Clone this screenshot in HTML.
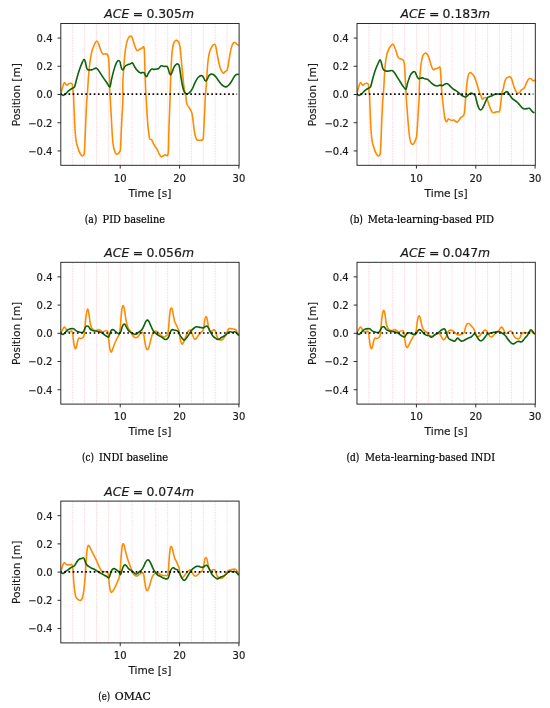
<!DOCTYPE html>
<html><head><meta charset="utf-8"><title>Figure</title>
<style>
html,body{margin:0;padding:0;background:#fff;}
svg{display:block}
text{font-family:"DejaVu Sans","Liberation Sans",sans-serif;fill:#1a1a1a;stroke:#1a1a1a;stroke-width:0.18px}
.tk{font-size:10.00px}
.lb{font-size:10.60px}
.tt{font-size:12.40px;font-style:italic}
.tn{font-style:normal}
.cp{font-family:"DejaVu Serif","Liberation Serif",serif;font-size:10.40px;fill:#000;stroke:#000;stroke-width:0.2px}
.ax{fill:none;stroke:#222;stroke-width:0.95}
.tick{stroke:#222;stroke-width:0.95}
.gl{stroke:#ffb6c4;stroke-width:0.5;stroke-dasharray:1.9 0.8}
.or{fill:none;stroke:#ff8c00;stroke-width:1.6;stroke-linejoin:round;stroke-linecap:butt}
.gr{fill:none;stroke:#0a640a;stroke-width:1.6;stroke-linejoin:round;stroke-linecap:butt}
.zl{stroke:#000;stroke-width:1.7;stroke-dasharray:1.65 2.55}
</style></head><body>
<svg width="550" height="708" viewBox="0 0 550 708">
<rect width="550" height="708" fill="#fff"/>
<defs><filter id="soft" x="0" y="0" width="550" height="708" filterUnits="userSpaceOnUse"><feGaussianBlur stdDeviation="0.32"/></filter></defs>
<g filter="url(#soft)">

<g>
<clipPath id="c0"><rect x="60.80" y="23.50" width="178.30" height="141.80"/></clipPath>
<path class="gl" d="M72.77 23.50V165.30M84.63 23.50V165.30M96.50 23.50V165.30M108.37 23.50V165.30M120.23 23.50V165.30M132.10 23.50V165.30M143.97 23.50V165.30M155.83 23.50V165.30M167.70 23.50V165.30M179.57 23.50V165.30M191.43 23.50V165.30M203.30 23.50V165.30M215.17 23.50V165.30M227.03 23.50V165.30"/>
<g clip-path="url(#c0)">
<path class="or" d="M60.80 93.82C61.08 92.76 61.86 89.32 62.45 87.45C63.05 85.59 63.66 83.00 64.36 82.62C65.06 82.24 65.91 84.99 66.65 85.16C67.40 85.33 68.14 83.95 68.82 83.64C69.50 83.32 70.15 83.15 70.73 83.25C71.30 83.36 71.89 83.25 72.25 84.27C72.62 85.29 72.72 87.73 72.89 89.36C73.06 91.00 73.15 92.69 73.27 94.07C73.40 95.45 73.48 94.07 73.65 97.64C73.82 101.20 74.04 109.73 74.29 115.45C74.55 121.18 74.88 127.76 75.18 132.00C75.48 136.24 75.71 138.58 76.07 140.91C76.43 143.24 76.86 144.30 77.35 146.00C77.83 147.70 78.45 149.71 79.00 151.09C79.55 152.47 80.12 153.47 80.65 154.27C81.18 155.08 81.65 155.86 82.18 155.93C82.71 155.99 83.45 155.46 83.84 154.65C84.22 153.85 84.28 153.38 84.47 151.09C84.66 148.80 84.77 145.79 84.98 140.91C85.19 136.03 85.47 128.18 85.75 121.82C86.02 115.45 86.36 107.39 86.64 102.73C86.91 98.06 87.08 98.27 87.40 93.82C87.72 89.36 88.14 81.09 88.55 76.00C88.95 70.91 89.29 67.30 89.82 63.27C90.35 59.24 90.98 54.89 91.73 51.82C92.47 48.74 93.47 46.62 94.27 44.82C95.08 43.02 95.82 41.11 96.56 41.00C97.31 40.89 98.05 42.70 98.73 44.18C99.41 45.67 100.00 48.32 100.64 49.91C101.27 51.50 101.85 53.05 102.55 53.73C103.25 54.41 104.09 53.92 104.84 53.98C105.58 54.05 106.38 53.41 107.00 54.11C107.62 54.81 108.15 55.38 108.53 58.18C108.91 60.98 109.08 64.93 109.29 70.91C109.50 76.89 109.65 89.62 109.80 94.07C109.95 98.53 109.95 94.07 110.18 97.64C110.42 101.20 110.88 109.73 111.20 115.45C111.52 121.18 111.79 127.33 112.09 132.00C112.39 136.67 112.62 140.48 112.98 143.45C113.34 146.42 113.83 148.16 114.25 149.82C114.68 151.47 115.10 152.64 115.53 153.38C115.95 154.12 116.31 154.27 116.80 154.27C117.29 154.27 117.90 153.91 118.45 153.38C119.01 152.85 119.75 152.32 120.11 151.09C120.47 149.86 120.43 149.18 120.62 146.00C120.81 142.82 121.02 137.09 121.25 132.00C121.49 126.91 121.74 120.76 122.02 115.45C122.29 110.15 122.77 105.48 122.91 100.18C123.05 94.88 122.70 88.94 122.84 83.64C122.97 78.33 123.37 73.45 123.73 68.36C124.09 63.27 124.51 57.33 125.00 53.09C125.49 48.85 126.08 45.45 126.65 42.91C127.23 40.36 127.80 38.94 128.44 37.82C129.07 36.69 129.84 36.16 130.47 36.16C131.11 36.16 131.68 36.69 132.25 37.82C132.83 38.94 133.36 41.21 133.91 42.91C134.46 44.61 135.03 46.73 135.56 48.00C136.09 49.27 136.41 50.33 137.09 50.55C137.77 50.76 138.79 49.70 139.64 49.27C140.48 48.85 141.48 48.38 142.18 48.00C142.88 47.62 143.45 46.13 143.84 46.98C144.22 47.83 144.28 49.10 144.47 53.09C144.66 57.08 144.79 64.97 144.98 70.91C145.17 76.85 145.41 83.85 145.62 88.73C145.83 93.61 146.02 96.15 146.25 100.18C146.49 104.21 146.74 108.67 147.02 112.91C147.29 117.15 147.59 122.03 147.91 125.64C148.23 129.24 148.61 132.32 148.93 134.55C149.25 136.77 149.35 138.11 149.82 139.00C150.28 139.89 151.13 139.15 151.73 139.89C152.32 140.63 152.81 142.33 153.38 143.45C153.95 144.58 154.53 145.62 155.16 146.64C155.80 147.65 156.56 148.40 157.20 149.56C157.84 150.73 158.30 152.43 158.98 153.64C159.66 154.85 160.57 156.44 161.27 156.82C161.97 157.20 162.50 156.25 163.18 155.93C163.86 155.61 164.65 154.97 165.35 154.91C166.05 154.85 166.89 155.97 167.38 155.55C167.87 155.12 168.06 154.80 168.27 152.36C168.48 149.92 168.51 146.00 168.65 140.91C168.80 135.82 168.95 128.18 169.16 121.82C169.38 115.45 169.72 109.09 169.93 102.73C170.14 96.36 170.22 89.79 170.44 83.64C170.65 77.48 170.92 71.12 171.20 65.82C171.48 60.52 171.73 55.42 172.09 51.82C172.45 48.21 172.88 45.98 173.36 44.18C173.85 42.38 174.45 41.64 175.02 41.00C175.59 40.36 176.23 40.26 176.80 40.36C177.37 40.47 178.04 41.11 178.45 41.64C178.87 42.17 178.97 42.27 179.27 43.55C179.58 44.82 179.97 46.83 180.29 49.27C180.61 51.71 180.86 54.79 181.18 58.18C181.50 61.58 181.84 65.82 182.20 69.64C182.56 73.45 182.98 77.70 183.35 81.09C183.71 84.48 183.94 87.45 184.36 90.00C184.79 92.55 185.51 94.14 185.89 96.36C186.27 98.59 186.17 101.56 186.65 103.36C187.14 105.17 188.14 106.02 188.82 107.18C189.50 108.35 190.20 109.30 190.73 110.36C191.26 111.42 191.62 111.85 192.00 113.55C192.38 115.24 192.64 117.68 193.02 120.55C193.40 123.41 193.87 127.97 194.29 130.73C194.72 133.48 195.10 135.56 195.56 137.09C196.03 138.62 196.41 139.36 197.09 139.89C197.77 140.42 198.68 140.32 199.64 140.27C200.59 140.23 202.18 140.38 202.82 139.64C203.45 138.89 203.24 138.58 203.45 135.82C203.67 133.06 203.88 127.55 204.09 123.09C204.30 118.64 204.52 113.55 204.73 109.09C204.94 104.64 205.11 100.18 205.36 96.36C205.62 92.55 205.98 90.00 206.25 86.18C206.53 82.36 206.74 77.48 207.02 73.45C207.29 69.42 207.55 65.29 207.91 62.00C208.27 58.71 208.69 55.95 209.18 53.73C209.67 51.50 210.26 50.02 210.84 48.64C211.41 47.26 212.05 46.20 212.62 45.45C213.19 44.71 213.78 44.18 214.27 44.18C214.76 44.18 215.16 44.39 215.55 45.45C215.93 46.52 216.20 48.64 216.56 50.55C216.92 52.45 217.31 54.79 217.71 56.91C218.11 59.03 218.49 61.26 218.98 63.27C219.47 65.29 220.08 67.52 220.64 69.00C221.19 70.48 221.80 71.48 222.29 72.18C222.78 72.88 223.10 73.31 223.56 73.20C224.03 73.09 224.52 72.03 225.09 71.55C225.66 71.06 226.53 71.02 227.00 70.27C227.47 69.53 227.57 68.68 227.89 67.09C228.21 65.50 228.53 63.06 228.91 60.73C229.29 58.39 229.76 55.32 230.18 53.09C230.61 50.86 230.99 48.95 231.45 47.36C231.92 45.77 232.45 44.39 232.98 43.55C233.51 42.70 234.08 42.27 234.64 42.27C235.19 42.27 235.76 43.12 236.29 43.55C236.82 43.97 237.39 44.54 237.82 44.82C238.24 45.09 238.67 45.14 238.84 45.20"/>
<path class="gr" d="M60.80 94.07C61.18 94.28 62.39 95.28 63.09 95.35C63.79 95.41 64.05 95.24 65.00 94.45C65.95 93.67 67.65 91.63 68.82 90.64C69.98 89.64 71.05 89.11 72.00 88.47C72.95 87.84 73.80 88.26 74.55 86.82C75.29 85.38 75.71 82.47 76.45 79.82C77.20 77.17 78.05 73.77 79.00 70.91C79.95 68.05 81.33 64.59 82.18 62.64C83.03 60.68 83.56 59.31 84.09 59.20C84.62 59.09 84.88 60.37 85.36 62.00C85.85 63.63 86.38 67.68 87.02 69.00C87.65 70.32 88.29 69.78 89.18 69.89C90.07 70.00 91.24 69.93 92.36 69.64C93.49 69.34 94.97 68.11 95.93 68.11C96.88 68.11 96.99 68.22 98.09 69.64C99.19 71.06 101.06 74.41 102.55 76.64C104.03 78.86 105.77 81.30 107.00 83.00C108.23 84.70 109.18 87.35 109.93 86.82C110.67 86.29 110.78 82.68 111.45 79.82C112.13 76.95 113.15 72.50 114.00 69.64C114.85 66.77 115.80 64.16 116.55 62.64C117.29 61.11 117.86 60.58 118.45 60.47C119.05 60.37 119.76 61.32 120.11 62.00C120.46 62.68 120.26 63.38 120.55 64.55C120.83 65.71 121.39 68.15 121.82 69.00C122.24 69.85 122.56 70.06 123.09 69.64C123.62 69.21 124.26 67.26 125.00 66.45C125.74 65.65 126.70 65.22 127.55 64.80C128.39 64.38 129.31 64.23 130.09 63.91C130.88 63.59 131.68 62.78 132.25 62.89C132.83 63.00 133.04 63.74 133.53 64.55C134.02 65.35 134.48 66.67 135.18 67.73C135.88 68.79 136.88 70.06 137.73 70.91C138.58 71.76 139.42 72.56 140.27 72.82C141.12 73.07 142.18 72.44 142.82 72.44C143.45 72.44 143.67 72.33 144.09 72.82C144.52 73.31 144.94 74.73 145.36 75.36C145.79 76.00 146.21 76.85 146.64 76.64C147.06 76.42 147.38 75.05 147.91 74.09C148.44 73.14 149.18 71.76 149.82 70.91C150.45 70.06 150.98 69.25 151.73 69.00C152.47 68.75 153.42 69.38 154.27 69.38C155.12 69.38 156.08 69.17 156.82 69.00C157.56 68.83 157.98 68.89 158.73 68.36C159.47 67.83 160.42 66.14 161.27 65.82C162.12 65.50 162.86 66.35 163.82 66.45C164.77 66.56 166.26 66.03 167.00 66.45C167.74 66.88 167.85 67.83 168.27 69.00C168.70 70.17 169.12 72.50 169.55 73.45C169.97 74.41 170.39 74.94 170.82 74.73C171.24 74.52 171.56 73.45 172.09 72.18C172.62 70.91 173.36 68.36 174.00 67.09C174.64 65.82 175.27 65.08 175.91 64.55C176.55 64.02 177.30 63.80 177.82 63.91C178.34 64.02 178.67 64.23 179.02 65.18C179.37 66.14 179.55 67.41 179.91 69.64C180.27 71.86 180.69 75.58 181.18 78.55C181.67 81.52 182.26 85.16 182.84 87.45C183.41 89.75 183.98 91.23 184.62 92.29C185.25 93.35 185.95 93.67 186.65 93.82C187.35 93.97 188.14 93.61 188.82 93.18C189.50 92.76 190.09 92.12 190.73 91.27C191.36 90.42 192.00 89.36 192.64 88.09C193.27 86.82 193.91 85.02 194.55 83.64C195.18 82.26 195.82 80.88 196.45 79.82C197.09 78.76 197.66 77.97 198.36 77.27C199.06 76.57 199.98 75.83 200.65 75.62C201.33 75.41 201.93 75.62 202.44 76.00C202.95 76.38 203.28 77.17 203.71 77.91C204.13 78.65 204.56 79.97 204.98 80.45C205.41 80.94 205.83 81.15 206.25 80.84C206.68 80.52 207.04 79.46 207.53 78.55C208.02 77.63 208.55 76.11 209.18 75.36C209.82 74.62 210.60 74.20 211.35 74.09C212.09 73.98 212.83 74.20 213.64 74.73C214.44 75.26 215.33 76.21 216.18 77.27C217.03 78.33 217.77 79.82 218.73 81.09C219.68 82.36 220.89 83.95 221.91 84.91C222.93 85.86 223.99 86.56 224.84 86.82C225.68 87.07 226.22 86.86 227.00 86.44C227.78 86.01 228.70 85.27 229.55 84.27C230.39 83.28 231.24 81.83 232.09 80.45C232.94 79.08 233.89 77.00 234.64 76.00C235.38 75.00 235.85 74.75 236.55 74.47C237.25 74.20 238.45 74.37 238.84 74.35"/>
<path class="zl" d="M60.10 94.20H237.12"/>
</g>
<rect class="ax" x="60.80" y="23.50" width="178.30" height="141.80"/>
<path class="tick" d="M120.23 165.30v3.3M179.57 165.30v3.3M238.90 165.30v3.3M60.80 150.94h-3.3M60.80 122.72h-3.3M60.80 94.50h-3.3M60.80 66.28h-3.3M60.80 38.06h-3.3"/>
<text class="tk" text-anchor="middle" x="120.23" y="181.50">10</text>
<text class="tk" text-anchor="middle" x="179.57" y="181.50">20</text>
<text class="tk" text-anchor="middle" x="238.90" y="181.50">30</text>
<text class="tk" text-anchor="end" x="52.50" y="154.84">−0.4</text>
<text class="tk" text-anchor="end" x="52.50" y="126.62">−0.2</text>
<text class="tk" text-anchor="end" x="52.50" y="98.40">0.0</text>
<text class="tk" text-anchor="end" x="52.50" y="70.18">0.2</text>
<text class="tk" text-anchor="end" x="52.50" y="41.96">0.4</text>
<text class="lb" text-anchor="middle" x="149.95" y="196.60">Time [s]</text>
<text class="lb" text-anchor="middle" transform="translate(19.80 94.70) rotate(-90)">Position [m]</text>
<text class="tt" y="18.30"><tspan x="104.30">ACE</tspan><tspan class="tn" x="132.70">=</tspan><tspan class="tn" x="146.40">0.305</tspan>m</text>
<text class="cp" x="84.70" y="222.50" textLength="12.7" lengthAdjust="spacingAndGlyphs">(a)</text>
<text class="cp" x="102.60" y="222.50" textLength="62.4" lengthAdjust="spacingAndGlyphs">PID baseline</text>
</g>
<g>
<clipPath id="c1"><rect x="357.00" y="23.50" width="178.30" height="141.80"/></clipPath>
<path class="gl" d="M368.97 23.50V165.30M380.83 23.50V165.30M392.70 23.50V165.30M404.57 23.50V165.30M416.43 23.50V165.30M428.30 23.50V165.30M440.17 23.50V165.30M452.03 23.50V165.30M463.90 23.50V165.30M475.77 23.50V165.30M487.63 23.50V165.30M499.50 23.50V165.30M511.37 23.50V165.30M523.23 23.50V165.30"/>
<g clip-path="url(#c1)">
<path class="or" d="M356.80 93.82C357.08 92.76 357.86 89.32 358.45 87.45C359.05 85.59 359.66 83.00 360.36 82.62C361.06 82.24 361.91 84.99 362.65 85.16C363.40 85.33 364.14 83.95 364.82 83.64C365.50 83.32 366.15 83.15 366.73 83.25C367.30 83.36 367.89 83.25 368.25 84.27C368.62 85.29 368.72 87.73 368.89 89.36C369.06 91.00 369.15 92.69 369.27 94.07C369.40 95.45 369.48 94.07 369.65 97.64C369.82 101.20 370.04 109.73 370.29 115.45C370.55 121.18 370.88 127.76 371.18 132.00C371.48 136.24 371.71 138.58 372.07 140.91C372.43 143.24 372.86 144.30 373.35 146.00C373.83 147.70 374.45 149.71 375.00 151.09C375.55 152.47 376.12 153.47 376.65 154.27C377.18 155.08 377.65 155.86 378.18 155.93C378.71 155.99 379.45 155.46 379.84 154.65C380.22 153.85 380.28 153.38 380.47 151.09C380.66 148.80 380.77 145.79 380.98 140.91C381.19 136.03 381.47 128.18 381.75 121.82C382.02 115.45 382.36 107.39 382.64 102.73C382.91 98.06 383.17 97.00 383.40 93.82C383.63 90.64 383.85 87.03 384.04 83.64C384.23 80.24 384.29 77.06 384.55 73.45C384.80 69.85 385.14 65.29 385.56 62.00C385.99 58.71 386.45 56.06 387.09 53.73C387.73 51.39 388.47 49.59 389.38 48.00C390.29 46.41 391.72 44.39 392.56 44.18C393.41 43.97 393.86 45.45 394.47 46.73C395.09 48.00 395.68 50.12 396.25 51.82C396.83 53.52 397.36 55.78 397.91 56.91C398.46 58.03 398.86 58.14 399.56 58.56C400.26 58.99 401.43 59.09 402.11 59.45C402.79 59.82 403.23 59.67 403.64 60.73C404.04 61.79 404.27 63.27 404.53 65.82C404.78 68.36 404.95 72.18 405.16 76.00C405.38 79.82 405.59 84.70 405.80 88.73C406.01 92.76 406.20 96.58 406.44 100.18C406.67 103.79 406.92 106.76 407.20 110.36C407.48 113.97 407.79 118.21 408.09 121.82C408.39 125.42 408.66 129.03 408.98 132.00C409.30 134.97 409.62 137.73 410.00 139.64C410.38 141.55 410.85 142.65 411.27 143.45C411.70 144.26 412.12 144.47 412.55 144.47C412.97 144.47 413.39 144.05 413.82 143.45C414.24 142.86 414.67 141.86 415.09 140.91C415.52 139.95 416.05 139.21 416.36 137.73C416.68 136.24 416.79 134.65 417.00 132.00C417.21 129.35 417.40 125.64 417.64 121.82C417.87 118.00 418.15 113.12 418.40 109.09C418.65 105.06 419.01 101.45 419.16 97.64C419.32 93.82 419.19 90.21 419.35 86.18C419.50 82.15 419.77 77.48 420.11 73.45C420.45 69.42 420.92 64.97 421.38 62.00C421.85 59.03 422.34 57.08 422.91 55.64C423.48 54.19 424.18 53.66 424.82 53.35C425.45 53.03 426.09 53.13 426.73 53.73C427.36 54.32 428.00 55.32 428.64 56.91C429.27 58.50 429.97 61.47 430.55 63.27C431.12 65.08 431.61 66.67 432.07 67.73C432.54 68.79 432.75 69.47 433.35 69.64C433.94 69.81 434.83 69.00 435.64 68.75C436.44 68.49 437.48 68.38 438.18 68.11C438.88 67.83 439.45 66.62 439.84 67.09C440.22 67.56 440.26 68.58 440.47 70.91C440.68 73.24 440.90 77.70 441.11 81.09C441.32 84.48 441.55 88.73 441.75 91.27C441.94 93.82 442.04 94.24 442.25 96.36C442.47 98.48 442.74 101.45 443.02 104.00C443.29 106.55 443.61 109.30 443.91 111.64C444.21 113.97 444.48 116.41 444.80 118.00C445.12 119.59 445.48 120.59 445.82 121.18C446.16 121.78 446.41 121.92 446.84 121.56C447.26 121.20 447.79 119.29 448.36 119.02C448.94 118.74 449.64 119.65 450.27 119.91C450.91 120.16 451.61 120.55 452.18 120.55C452.75 120.55 453.18 119.80 453.71 119.91C454.24 120.02 454.77 120.82 455.36 121.18C455.96 121.54 456.64 122.28 457.27 122.07C457.91 121.86 458.55 120.69 459.18 119.91C459.82 119.12 460.45 118.00 461.09 117.36C461.73 116.73 462.47 116.73 463.00 116.09C463.53 115.45 463.95 114.92 464.27 113.55C464.59 112.17 464.70 110.26 464.91 107.82C465.12 105.38 465.33 101.67 465.55 98.91C465.76 96.15 465.91 94.24 466.18 91.27C466.46 88.30 466.82 83.85 467.20 81.09C467.58 78.33 467.96 76.17 468.47 74.73C468.98 73.28 469.62 72.54 470.25 72.44C470.89 72.33 471.67 73.50 472.29 74.09C472.92 74.68 473.46 75.05 474.00 76.00C474.54 76.95 475.00 78.33 475.53 79.82C476.06 81.30 476.59 83.00 477.18 84.91C477.78 86.82 478.45 89.44 479.09 91.27C479.73 93.11 480.47 94.61 481.00 95.91C481.53 97.21 481.78 98.73 482.27 99.09C482.76 99.45 483.35 98.33 483.93 98.07C484.50 97.82 485.20 97.50 485.71 97.56C486.22 97.63 486.60 97.78 486.98 98.45C487.36 99.13 487.62 100.47 488.00 101.64C488.38 102.80 488.81 104.14 489.27 105.45C489.74 106.77 490.27 108.36 490.80 109.53C491.33 110.69 491.86 111.97 492.45 112.45C493.05 112.94 493.62 112.56 494.36 112.45C495.11 112.35 496.10 111.97 496.91 111.82C497.72 111.67 498.67 112.09 499.20 111.56C499.73 111.03 499.79 110.29 500.09 108.64C500.39 106.98 500.66 104.29 500.98 101.64C501.30 98.98 501.62 94.88 502.00 92.73C502.38 90.58 502.85 90.45 503.27 88.73C503.70 87.00 504.08 84.06 504.55 82.36C505.01 80.67 505.48 79.39 506.07 78.55C506.67 77.70 507.47 77.59 508.11 77.27C508.75 76.95 509.32 76.42 509.89 76.64C510.46 76.85 511.06 77.48 511.55 78.55C512.03 79.61 512.33 81.41 512.82 83.00C513.31 84.59 513.90 86.61 514.47 88.09C515.05 89.58 515.68 91.00 516.25 91.91C516.83 92.82 517.36 93.46 517.91 93.56C518.46 93.67 518.99 93.14 519.56 92.55C520.14 91.95 520.71 90.64 521.35 90.00C521.98 89.36 522.79 89.26 523.38 88.73C523.98 88.20 524.40 87.77 524.91 86.82C525.42 85.86 525.91 84.17 526.44 83.00C526.97 81.83 527.54 80.56 528.09 79.82C528.64 79.08 529.17 78.65 529.75 78.55C530.32 78.44 530.95 78.80 531.53 79.18C532.10 79.56 532.63 80.73 533.18 80.84C533.73 80.94 534.56 79.99 534.84 79.82"/>
<path class="gr" d="M356.80 94.07C357.18 94.28 358.39 95.28 359.09 95.35C359.79 95.41 360.05 95.24 361.00 94.45C361.95 93.67 363.65 91.63 364.82 90.64C365.98 89.64 367.05 89.11 368.00 88.47C368.95 87.84 369.80 88.26 370.55 86.82C371.29 85.38 371.71 82.47 372.45 79.82C373.20 77.17 374.05 73.67 375.00 70.91C375.95 68.15 377.33 65.14 378.18 63.27C379.03 61.41 379.56 59.82 380.09 59.71C380.62 59.60 380.88 61.09 381.36 62.64C381.85 64.18 382.38 67.66 383.02 69.00C383.65 70.34 384.29 70.29 385.18 70.65C386.07 71.02 387.24 71.18 388.36 71.16C389.49 71.14 390.97 70.36 391.93 70.53C392.88 70.70 392.99 70.74 394.09 72.18C395.19 73.62 397.06 76.85 398.55 79.18C400.03 81.52 401.77 84.48 403.00 86.18C404.23 87.88 405.18 89.79 405.93 89.36C406.67 88.94 406.78 85.86 407.45 83.64C408.13 81.41 409.15 77.87 410.00 76.00C410.85 74.13 411.80 73.18 412.55 72.44C413.29 71.69 413.96 71.48 414.45 71.55C414.95 71.61 415.14 72.08 415.53 72.82C415.92 73.56 416.31 75.05 416.80 76.00C417.29 76.95 417.86 78.16 418.45 78.55C419.05 78.93 419.66 78.40 420.36 78.29C421.06 78.18 421.91 77.82 422.65 77.91C423.40 77.99 424.03 78.59 424.82 78.80C425.60 79.01 426.62 78.84 427.36 79.18C428.11 79.52 428.53 80.14 429.27 80.84C430.02 81.54 430.86 82.60 431.82 83.38C432.77 84.17 434.05 85.12 435.00 85.55C435.95 85.97 436.70 85.99 437.55 85.93C438.39 85.86 439.24 85.23 440.09 85.16C440.94 85.10 441.79 85.76 442.64 85.55C443.48 85.33 444.40 84.21 445.18 83.89C445.97 83.57 446.60 83.36 447.35 83.64C448.09 83.91 448.83 84.80 449.64 85.55C450.44 86.29 451.33 87.35 452.18 88.09C453.03 88.83 453.88 89.43 454.73 90.00C455.58 90.57 456.42 90.89 457.27 91.53C458.12 92.16 458.97 93.12 459.82 93.82C460.67 94.52 461.41 95.20 462.36 95.73C463.32 96.26 464.59 97.11 465.55 97.00C466.50 96.89 467.24 95.73 468.09 95.09C468.94 94.45 469.79 93.39 470.64 93.18C471.48 92.97 472.41 93.36 473.18 93.82C473.95 94.27 474.75 94.92 475.27 95.91C475.79 96.89 475.91 98.24 476.29 99.73C476.67 101.21 477.10 103.33 477.56 104.82C478.03 106.30 478.58 107.79 479.09 108.64C479.60 109.48 480.09 109.91 480.62 109.91C481.15 109.91 481.68 109.48 482.27 108.64C482.87 107.79 483.55 106.20 484.18 104.82C484.82 103.44 485.45 101.64 486.09 100.36C486.73 99.09 487.36 97.82 488.00 97.18C488.64 96.55 489.17 96.82 489.91 96.55C490.65 96.27 491.61 95.91 492.45 95.53C493.30 95.15 494.05 94.51 495.00 94.25C495.95 94.00 497.12 94.00 498.18 94.00C499.24 94.00 500.41 94.36 501.36 94.25C502.32 94.15 503.17 93.72 503.91 93.36C504.65 93.00 505.25 92.37 505.82 92.09C506.39 91.82 506.88 91.50 507.35 91.71C507.81 91.92 508.13 92.66 508.62 93.36C509.11 94.06 509.68 95.06 510.27 95.91C510.87 96.76 511.44 97.71 512.18 98.45C512.92 99.20 513.88 99.73 514.73 100.36C515.58 101.00 516.47 101.53 517.27 102.27C518.08 103.02 518.82 103.97 519.56 104.82C520.31 105.67 520.94 106.66 521.73 107.36C522.51 108.06 523.42 108.81 524.27 109.02C525.12 109.23 525.97 108.76 526.82 108.64C527.67 108.51 528.66 108.04 529.36 108.25C530.06 108.47 530.49 109.32 531.02 109.91C531.55 110.50 531.97 111.33 532.55 111.82C533.12 112.31 534.14 112.67 534.45 112.84"/>
<path class="zl" d="M356.30 94.20H533.32"/>
</g>
<rect class="ax" x="357.00" y="23.50" width="178.30" height="141.80"/>
<path class="tick" d="M416.43 165.30v3.3M475.77 165.30v3.3M535.10 165.30v3.3M357.00 150.94h-3.3M357.00 122.72h-3.3M357.00 94.50h-3.3M357.00 66.28h-3.3M357.00 38.06h-3.3"/>
<text class="tk" text-anchor="middle" x="416.43" y="181.50">10</text>
<text class="tk" text-anchor="middle" x="475.77" y="181.50">20</text>
<text class="tk" text-anchor="middle" x="535.10" y="181.50">30</text>
<text class="tk" text-anchor="end" x="348.70" y="154.84">−0.4</text>
<text class="tk" text-anchor="end" x="348.70" y="126.62">−0.2</text>
<text class="tk" text-anchor="end" x="348.70" y="98.40">0.0</text>
<text class="tk" text-anchor="end" x="348.70" y="70.18">0.2</text>
<text class="tk" text-anchor="end" x="348.70" y="41.96">0.4</text>
<text class="lb" text-anchor="middle" x="446.15" y="196.60">Time [s]</text>
<text class="lb" text-anchor="middle" transform="translate(316.00 94.70) rotate(-90)">Position [m]</text>
<text class="tt" y="18.30"><tspan x="400.50">ACE</tspan><tspan class="tn" x="428.90">=</tspan><tspan class="tn" x="442.60">0.183</tspan>m</text>
<text class="cp" x="349.80" y="222.50" textLength="13.1" lengthAdjust="spacingAndGlyphs">(b)</text>
<text class="cp" x="367.70" y="222.50" textLength="126.3" lengthAdjust="spacingAndGlyphs">Meta-learning-based PID</text>
</g>
<g>
<clipPath id="c2"><rect x="60.80" y="262.30" width="178.30" height="141.80"/></clipPath>
<path class="gl" d="M72.77 262.30V404.10M84.63 262.30V404.10M96.50 262.30V404.10M108.37 262.30V404.10M120.23 262.30V404.10M132.10 262.30V404.10M143.97 262.30V404.10M155.83 262.30V404.10M167.70 262.30V404.10M179.57 262.30V404.10M191.43 262.30V404.10M203.30 262.30V404.10M215.17 262.30V404.10M227.03 262.30V404.10"/>
<g clip-path="url(#c2)">
<path class="or" d="M60.80 333.09C61.08 332.56 61.86 330.91 62.45 329.91C63.05 328.91 63.79 327.32 64.36 327.11C64.94 326.90 65.42 327.96 65.89 328.64C66.36 329.32 66.68 330.65 67.16 331.18C67.65 331.71 68.22 331.82 68.82 331.82C69.41 331.82 70.15 331.18 70.73 331.18C71.30 331.18 71.87 330.97 72.25 331.82C72.64 332.67 72.74 334.26 73.02 336.27C73.29 338.29 73.61 342.00 73.91 343.91C74.21 345.82 74.48 346.98 74.80 347.73C75.12 348.47 75.48 348.79 75.82 348.36C76.16 347.94 76.52 346.45 76.84 345.18C77.15 343.91 77.37 341.89 77.73 340.73C78.09 339.56 78.51 338.54 79.00 338.18C79.49 337.82 80.08 338.63 80.65 338.56C81.23 338.50 81.91 338.18 82.44 337.80C82.97 337.42 83.45 337.59 83.84 336.27C84.22 334.96 84.41 332.88 84.73 329.91C85.05 326.94 85.36 321.64 85.75 318.45C86.13 315.27 86.66 312.35 87.02 310.82C87.38 309.29 87.59 308.87 87.91 309.29C88.23 309.72 88.57 311.20 88.93 313.36C89.29 315.53 89.67 319.94 90.07 322.27C90.48 324.61 90.86 326.13 91.35 327.36C91.83 328.59 92.41 329.12 93.00 329.65C93.59 330.18 94.27 330.46 94.91 330.55C95.55 330.63 96.18 330.31 96.82 330.16C97.45 330.02 98.09 329.59 98.73 329.65C99.36 329.72 100.00 330.18 100.64 330.55C101.27 330.91 101.91 331.71 102.55 331.82C103.18 331.92 103.71 331.39 104.45 331.18C105.20 330.97 106.36 330.12 107.00 330.55C107.64 330.97 107.95 331.92 108.27 333.73C108.59 335.53 108.63 338.82 108.91 341.36C109.18 343.91 109.55 347.20 109.93 349.00C110.31 350.80 110.78 352.08 111.20 352.18C111.62 352.29 112.01 350.80 112.47 349.64C112.94 348.47 113.43 346.67 114.00 345.18C114.57 343.70 115.27 342.11 115.91 340.73C116.55 339.35 117.26 337.97 117.82 336.91C118.38 335.85 118.86 335.95 119.27 334.36C119.68 332.77 119.97 330.44 120.29 327.36C120.61 324.29 120.86 319.20 121.18 315.91C121.50 312.62 121.84 309.33 122.20 307.64C122.56 305.94 122.98 305.52 123.35 305.73C123.71 305.94 124.02 307.21 124.36 308.91C124.70 310.61 125.00 313.47 125.38 315.91C125.76 318.35 126.19 321.53 126.65 323.55C127.12 325.56 127.61 326.73 128.18 328.00C128.75 329.27 129.45 330.12 130.09 331.18C130.73 332.24 131.36 333.41 132.00 334.36C132.64 335.32 133.27 336.34 133.91 336.91C134.55 337.48 135.18 337.80 135.82 337.80C136.45 337.80 137.09 337.48 137.73 336.91C138.36 336.34 139.00 335.11 139.64 334.36C140.27 333.62 140.95 332.73 141.55 332.45C142.14 332.18 142.78 332.07 143.20 332.71C143.62 333.35 143.79 334.62 144.09 336.27C144.39 337.93 144.66 340.73 144.98 342.64C145.30 344.55 145.62 346.56 146.00 347.73C146.38 348.89 146.85 349.53 147.27 349.64C147.70 349.74 148.12 349.32 148.55 348.36C148.97 347.41 149.39 345.50 149.82 343.91C150.24 342.32 150.67 340.41 151.09 338.82C151.52 337.23 151.83 335.53 152.36 334.36C152.89 333.20 153.64 332.35 154.27 331.82C154.91 331.29 155.55 331.08 156.18 331.18C156.82 331.29 157.45 331.92 158.09 332.45C158.73 332.98 159.30 333.73 160.00 334.36C160.70 335.00 161.55 335.85 162.29 336.27C163.03 336.70 163.78 337.02 164.45 336.91C165.13 336.80 165.79 336.17 166.36 335.64C166.94 335.11 167.51 335.11 167.89 333.73C168.27 332.35 168.38 330.33 168.65 327.36C168.93 324.39 169.25 318.88 169.55 315.91C169.84 312.94 170.12 310.86 170.44 309.55C170.75 308.23 171.12 307.91 171.45 308.02C171.79 308.12 172.13 308.87 172.47 310.18C172.81 311.50 173.13 314.00 173.49 315.91C173.85 317.82 174.23 320.26 174.64 321.64C175.04 323.02 175.48 323.33 175.91 324.18C176.33 325.03 176.76 325.77 177.18 326.73C177.61 327.68 178.15 329.17 178.45 329.91C178.76 330.65 178.78 329.91 179.02 331.18C179.26 332.45 179.55 335.64 179.91 337.55C180.27 339.45 180.76 341.53 181.18 342.64C181.61 343.74 182.03 344.27 182.45 344.16C182.88 344.06 183.24 343.10 183.73 342.00C184.22 340.90 184.81 339.03 185.38 337.55C185.95 336.06 186.59 334.26 187.16 333.09C187.74 331.92 188.27 331.03 188.82 330.55C189.37 330.06 189.98 329.85 190.47 330.16C190.96 330.48 191.32 331.44 191.75 332.45C192.17 333.47 192.55 335.17 193.02 336.27C193.48 337.38 194.04 338.69 194.55 339.07C195.05 339.45 195.54 339.03 196.07 338.56C196.60 338.10 197.13 337.08 197.73 336.27C198.32 335.47 199.00 334.47 199.64 333.73C200.27 332.98 200.95 332.45 201.55 331.82C202.14 331.18 202.78 331.08 203.20 329.91C203.62 328.74 203.79 326.62 204.09 324.82C204.39 323.02 204.66 320.47 204.98 319.09C205.30 317.71 205.66 316.65 206.00 316.55C206.34 316.44 206.70 317.29 207.02 318.45C207.34 319.62 207.61 321.85 207.91 323.55C208.21 325.24 208.44 327.26 208.80 328.64C209.16 330.02 209.58 331.39 210.07 331.82C210.56 332.24 211.13 331.50 211.73 331.18C212.32 330.86 213.06 330.02 213.64 329.91C214.21 329.80 214.74 329.91 215.16 330.55C215.59 331.18 215.80 332.56 216.18 333.73C216.56 334.89 216.99 336.59 217.45 337.55C217.92 338.50 218.39 339.03 218.98 339.45C219.58 339.88 220.32 340.20 221.02 340.09C221.72 339.98 222.50 339.45 223.18 338.82C223.86 338.18 224.45 337.33 225.09 336.27C225.73 335.21 226.47 333.62 227.00 332.45C227.53 331.29 227.78 329.95 228.27 329.27C228.76 328.59 229.29 328.45 229.93 328.38C230.56 328.32 231.37 328.74 232.09 328.89C232.81 329.04 233.62 329.10 234.25 329.27C234.89 329.44 235.42 329.38 235.91 329.91C236.40 330.44 236.69 331.61 237.18 332.45C237.67 333.30 238.56 334.58 238.84 335.00"/>
<path class="gr" d="M60.80 333.47C61.18 333.62 62.39 334.49 63.09 334.36C63.79 334.24 64.36 333.35 65.00 332.71C65.64 332.07 66.17 331.16 66.91 330.55C67.65 329.93 68.61 329.34 69.45 329.02C70.30 328.70 71.26 328.66 72.00 328.64C72.74 328.62 73.27 328.57 73.91 328.89C74.55 329.21 75.08 330.06 75.82 330.55C76.56 331.03 77.52 331.50 78.36 331.82C79.21 332.14 80.17 332.39 80.91 332.45C81.65 332.52 82.29 332.52 82.82 332.20C83.35 331.88 83.67 331.35 84.09 330.55C84.52 329.74 84.88 328.11 85.36 327.36C85.85 326.62 86.49 326.24 87.02 326.09C87.55 325.94 88.08 326.05 88.55 326.47C89.01 326.90 89.29 328.02 89.82 328.64C90.35 329.25 90.98 329.78 91.73 330.16C92.47 330.55 93.42 330.76 94.27 330.93C95.12 331.10 95.97 331.03 96.82 331.18C97.67 331.33 98.52 331.56 99.36 331.82C100.21 332.07 101.06 332.22 101.91 332.71C102.76 333.20 103.61 334.11 104.45 334.75C105.30 335.38 106.30 336.17 107.00 336.53C107.70 336.89 108.17 337.38 108.65 336.91C109.14 336.44 109.50 334.79 109.93 333.73C110.35 332.67 110.73 331.22 111.20 330.55C111.67 329.87 112.15 329.65 112.73 329.65C113.30 329.65 114.00 330.08 114.64 330.55C115.27 331.01 115.91 331.92 116.55 332.45C117.18 332.98 117.96 333.52 118.45 333.73C118.95 333.94 119.14 334.05 119.53 333.73C119.92 333.41 120.38 332.88 120.80 331.82C121.22 330.76 121.65 328.57 122.07 327.36C122.50 326.15 122.92 325.09 123.35 324.56C123.77 324.03 124.19 323.93 124.62 324.18C125.04 324.44 125.47 325.35 125.89 326.09C126.32 326.83 126.68 327.83 127.16 328.64C127.65 329.44 128.22 330.33 128.82 330.93C129.41 331.52 130.09 331.78 130.73 332.20C131.36 332.62 132.00 333.11 132.64 333.47C133.27 333.83 133.91 334.28 134.55 334.36C135.18 334.45 135.82 334.30 136.45 333.98C137.09 333.66 137.73 332.92 138.36 332.45C139.00 331.99 139.64 331.71 140.27 331.18C140.91 330.65 141.55 330.23 142.18 329.27C142.82 328.32 143.50 326.73 144.09 325.45C144.68 324.18 145.22 322.53 145.75 321.64C146.28 320.75 146.76 320.17 147.27 320.11C147.78 320.05 148.27 320.47 148.80 321.25C149.33 322.04 149.90 323.59 150.45 324.82C151.01 326.05 151.54 327.47 152.11 328.64C152.68 329.80 153.21 330.97 153.89 331.82C154.57 332.67 155.38 333.09 156.18 333.73C156.99 334.36 157.88 335.11 158.73 335.64C159.58 336.17 160.53 336.48 161.27 336.91C162.02 337.33 162.55 337.76 163.18 338.18C163.82 338.61 164.45 339.31 165.09 339.45C165.73 339.60 166.41 339.50 167.00 339.07C167.59 338.65 168.17 337.91 168.65 336.91C169.14 335.91 169.50 334.15 169.93 333.09C170.35 332.03 170.73 331.12 171.20 330.55C171.67 329.97 172.15 329.72 172.73 329.65C173.30 329.59 174.00 330.02 174.64 330.16C175.27 330.31 175.91 330.27 176.55 330.55C177.18 330.82 177.96 331.18 178.45 331.82C178.95 332.45 179.07 333.52 179.53 334.36C179.98 335.21 180.59 336.06 181.18 336.91C181.78 337.76 182.52 338.92 183.09 339.45C183.66 339.98 184.09 340.30 184.62 340.09C185.15 339.88 185.68 338.92 186.27 338.18C186.87 337.44 187.55 336.59 188.18 335.64C188.82 334.68 189.45 333.41 190.09 332.45C190.73 331.50 191.30 330.65 192.00 329.91C192.70 329.17 193.55 328.53 194.29 328.00C195.03 327.47 195.67 326.88 196.45 326.73C197.24 326.58 198.15 326.96 199.00 327.11C199.85 327.26 200.80 327.47 201.55 327.62C202.29 327.77 202.88 328.15 203.45 328.00C204.03 327.85 204.45 327.05 204.98 326.73C205.51 326.41 206.08 325.94 206.64 326.09C207.19 326.24 207.76 326.88 208.29 327.62C208.82 328.36 209.25 329.42 209.82 330.55C210.39 331.67 211.09 333.30 211.73 334.36C212.36 335.42 213.00 336.27 213.64 336.91C214.27 337.55 214.91 337.76 215.55 338.18C216.18 338.61 216.82 339.31 217.45 339.45C218.09 339.60 218.73 339.39 219.36 339.07C220.00 338.75 220.53 338.01 221.27 337.55C222.02 337.08 222.97 336.80 223.82 336.27C224.67 335.74 225.62 335.00 226.36 334.36C227.11 333.73 227.64 332.88 228.27 332.45C228.91 332.03 229.44 331.86 230.18 331.82C230.92 331.78 231.98 332.20 232.73 332.20C233.47 332.20 234.00 331.67 234.64 331.82C235.27 331.97 235.85 332.45 236.55 333.09C237.25 333.73 238.45 335.21 238.84 335.64"/>
<path class="zl" d="M60.10 333.00H237.12"/>
</g>
<rect class="ax" x="60.80" y="262.30" width="178.30" height="141.80"/>
<path class="tick" d="M120.23 404.10v3.3M179.57 404.10v3.3M238.90 404.10v3.3M60.80 389.74h-3.3M60.80 361.52h-3.3M60.80 333.30h-3.3M60.80 305.08h-3.3M60.80 276.86h-3.3"/>
<text class="tk" text-anchor="middle" x="120.23" y="420.30">10</text>
<text class="tk" text-anchor="middle" x="179.57" y="420.30">20</text>
<text class="tk" text-anchor="middle" x="238.90" y="420.30">30</text>
<text class="tk" text-anchor="end" x="52.50" y="393.64">−0.4</text>
<text class="tk" text-anchor="end" x="52.50" y="365.42">−0.2</text>
<text class="tk" text-anchor="end" x="52.50" y="337.20">0.0</text>
<text class="tk" text-anchor="end" x="52.50" y="308.98">0.2</text>
<text class="tk" text-anchor="end" x="52.50" y="280.76">0.4</text>
<text class="lb" text-anchor="middle" x="149.95" y="435.40">Time [s]</text>
<text class="lb" text-anchor="middle" transform="translate(19.80 333.50) rotate(-90)">Position [m]</text>
<text class="tt" y="257.10"><tspan x="104.30">ACE</tspan><tspan class="tn" x="132.70">=</tspan><tspan class="tn" x="146.40">0.056</tspan>m</text>
<text class="cp" x="82.00" y="461.30" textLength="11.9" lengthAdjust="spacingAndGlyphs">(c)</text>
<text class="cp" x="98.90" y="461.30" textLength="69.2" lengthAdjust="spacingAndGlyphs">INDI baseline</text>
</g>
<g>
<clipPath id="c3"><rect x="357.00" y="262.30" width="178.30" height="141.80"/></clipPath>
<path class="gl" d="M368.97 262.30V404.10M380.83 262.30V404.10M392.70 262.30V404.10M404.57 262.30V404.10M416.43 262.30V404.10M428.30 262.30V404.10M440.17 262.30V404.10M452.03 262.30V404.10M463.90 262.30V404.10M475.77 262.30V404.10M487.63 262.30V404.10M499.50 262.30V404.10M511.37 262.30V404.10M523.23 262.30V404.10"/>
<g clip-path="url(#c3)">
<path class="or" d="M356.80 333.09C357.08 332.56 357.86 330.91 358.45 329.91C359.05 328.91 359.79 327.32 360.36 327.11C360.94 326.90 361.42 327.96 361.89 328.64C362.36 329.32 362.68 330.65 363.16 331.18C363.65 331.71 364.22 331.82 364.82 331.82C365.41 331.82 366.15 331.18 366.73 331.18C367.30 331.18 367.87 330.97 368.25 331.82C368.64 332.67 368.74 334.26 369.02 336.27C369.29 338.29 369.61 342.00 369.91 343.91C370.21 345.82 370.48 346.98 370.80 347.73C371.12 348.47 371.48 348.79 371.82 348.36C372.16 347.94 372.52 346.45 372.84 345.18C373.15 343.91 373.37 341.89 373.73 340.73C374.09 339.56 374.51 338.54 375.00 338.18C375.49 337.82 376.08 338.63 376.65 338.56C377.23 338.50 377.91 338.18 378.44 337.80C378.97 337.42 379.45 337.59 379.84 336.27C380.22 334.96 380.41 332.77 380.73 329.91C381.05 327.05 381.36 322.10 381.75 319.09C382.13 316.08 382.66 313.26 383.02 311.84C383.38 310.42 383.59 310.20 383.91 310.56C384.23 310.92 384.57 312.05 384.93 314.00C385.29 315.95 385.67 320.05 386.07 322.27C386.48 324.50 386.86 326.13 387.35 327.36C387.83 328.59 388.41 329.12 389.00 329.65C389.59 330.18 390.27 330.46 390.91 330.55C391.55 330.63 392.18 330.31 392.82 330.16C393.45 330.02 394.09 329.59 394.73 329.65C395.36 329.72 396.00 330.18 396.64 330.55C397.27 330.91 397.91 331.71 398.55 331.82C399.18 331.92 399.71 331.39 400.45 331.18C401.20 330.97 402.36 330.12 403.00 330.55C403.64 330.97 403.95 332.14 404.27 333.73C404.59 335.32 404.63 338.08 404.91 340.09C405.18 342.11 405.55 344.55 405.93 345.82C406.31 347.09 406.78 347.73 407.20 347.73C407.62 347.73 408.01 346.67 408.47 345.82C408.94 344.97 409.43 343.80 410.00 342.64C410.57 341.47 411.27 339.98 411.91 338.82C412.55 337.65 413.26 336.38 413.82 335.64C414.38 334.89 414.86 335.32 415.27 334.36C415.68 333.41 415.97 331.92 416.29 329.91C416.61 327.89 416.86 324.39 417.18 322.27C417.50 320.15 417.84 318.24 418.20 317.18C418.56 316.12 418.98 315.70 419.35 315.91C419.71 316.12 420.02 317.18 420.36 318.45C420.70 319.73 421.00 321.95 421.38 323.55C421.76 325.14 422.19 326.83 422.65 328.00C423.12 329.17 423.61 329.91 424.18 330.55C424.75 331.18 425.45 331.29 426.09 331.82C426.73 332.35 427.36 333.09 428.00 333.73C428.64 334.36 429.27 335.21 429.91 335.64C430.55 336.06 431.18 336.27 431.82 336.27C432.45 336.27 433.09 335.95 433.73 335.64C434.36 335.32 435.00 334.72 435.64 334.36C436.27 334.00 436.95 333.62 437.55 333.47C438.14 333.32 438.71 333.22 439.20 333.47C439.69 333.73 440.05 334.32 440.47 335.00C440.90 335.68 441.28 336.80 441.75 337.55C442.21 338.29 442.76 339.20 443.27 339.45C443.78 339.71 444.33 339.50 444.80 339.07C445.27 338.65 445.69 337.80 446.07 336.91C446.45 336.02 446.71 334.68 447.09 333.73C447.47 332.77 447.83 331.78 448.36 331.18C448.89 330.59 449.64 330.27 450.27 330.16C450.91 330.06 451.55 330.27 452.18 330.55C452.82 330.82 453.45 331.29 454.09 331.82C454.73 332.35 455.36 333.20 456.00 333.73C456.64 334.26 457.27 334.83 457.91 335.00C458.55 335.17 459.12 334.92 459.82 334.75C460.52 334.58 461.43 334.26 462.11 333.98C462.79 333.71 463.42 333.77 463.89 333.09C464.36 332.41 464.57 331.08 464.91 329.91C465.25 328.74 465.55 327.09 465.93 326.09C466.31 325.09 466.73 324.35 467.20 323.93C467.67 323.50 468.22 323.40 468.73 323.55C469.24 323.69 469.72 324.29 470.25 324.82C470.78 325.35 471.36 326.09 471.91 326.73C472.46 327.36 473.05 327.79 473.56 328.64C474.08 329.48 474.56 330.65 475.02 331.82C475.47 332.98 475.82 334.79 476.29 335.64C476.76 336.48 477.25 336.91 477.82 336.91C478.39 336.91 479.09 336.27 479.73 335.64C480.36 335.00 481.00 333.88 481.64 333.09C482.27 332.31 482.91 331.42 483.55 330.93C484.18 330.44 484.88 330.12 485.45 330.16C486.03 330.21 486.52 330.59 486.98 331.18C487.45 331.78 487.77 332.88 488.25 333.73C488.74 334.58 489.32 335.74 489.91 336.27C490.50 336.80 491.25 337.02 491.82 336.91C492.39 336.80 492.82 336.21 493.35 335.64C493.88 335.06 494.41 334.11 495.00 333.47C495.59 332.84 496.27 332.31 496.91 331.82C497.55 331.33 498.29 331.12 498.82 330.55C499.35 329.97 499.67 328.95 500.09 328.38C500.52 327.81 500.94 327.17 501.36 327.11C501.79 327.05 502.21 327.43 502.64 328.00C503.06 328.57 503.48 329.76 503.91 330.55C504.33 331.33 504.69 332.22 505.18 332.71C505.67 333.20 506.26 333.62 506.84 333.47C507.41 333.32 508.05 332.24 508.62 331.82C509.19 331.39 509.72 330.93 510.27 330.93C510.82 330.93 511.44 331.25 511.93 331.82C512.42 332.39 512.73 333.45 513.20 334.36C513.67 335.28 514.15 336.59 514.73 337.29C515.30 337.99 516.00 338.31 516.64 338.56C517.27 338.82 517.97 338.99 518.55 338.82C519.12 338.65 519.61 338.29 520.07 337.55C520.54 336.80 520.86 335.17 521.35 334.36C521.83 333.56 522.41 333.03 523.00 332.71C523.59 332.39 524.17 332.45 524.91 332.45C525.65 332.45 526.61 332.82 527.45 332.71C528.30 332.60 529.26 332.03 530.00 331.82C530.74 331.61 531.38 331.29 531.91 331.44C532.44 331.58 532.69 332.22 533.18 332.71C533.67 333.20 534.56 334.09 534.84 334.36"/>
<path class="gr" d="M356.80 333.47C357.18 333.62 358.39 334.49 359.09 334.36C359.79 334.24 360.36 333.35 361.00 332.71C361.64 332.07 362.17 331.16 362.91 330.55C363.65 329.93 364.61 329.34 365.45 329.02C366.30 328.70 367.26 328.66 368.00 328.64C368.74 328.62 369.27 328.57 369.91 328.89C370.55 329.21 371.08 330.06 371.82 330.55C372.56 331.03 373.52 331.50 374.36 331.82C375.21 332.14 376.17 332.39 376.91 332.45C377.65 332.52 378.29 332.52 378.82 332.20C379.35 331.88 379.67 331.25 380.09 330.55C380.52 329.85 380.88 328.64 381.36 328.00C381.85 327.36 382.49 326.88 383.02 326.73C383.55 326.58 384.08 326.73 384.55 327.11C385.01 327.49 385.29 328.45 385.82 329.02C386.35 329.59 386.98 330.18 387.73 330.55C388.47 330.91 389.42 331.03 390.27 331.18C391.12 331.33 391.97 331.29 392.82 331.44C393.67 331.58 394.52 331.80 395.36 332.07C396.21 332.35 397.06 332.60 397.91 333.09C398.76 333.58 399.61 334.43 400.45 335.00C401.30 335.57 402.30 336.21 403.00 336.53C403.70 336.85 404.17 337.16 404.65 336.91C405.14 336.65 405.46 335.64 405.93 335.00C406.39 334.36 406.88 333.47 407.45 333.09C408.03 332.71 408.73 332.65 409.36 332.71C410.00 332.77 410.64 333.20 411.27 333.47C411.91 333.75 412.73 334.28 413.18 334.36C413.64 334.45 413.61 333.98 414.00 333.98C414.39 333.98 415.06 334.58 415.53 334.36C415.99 334.15 416.38 333.35 416.80 332.71C417.22 332.07 417.58 331.05 418.07 330.55C418.56 330.04 419.18 329.65 419.73 329.65C420.28 329.65 420.85 330.08 421.38 330.55C421.91 331.01 422.34 331.82 422.91 332.45C423.48 333.09 424.18 333.90 424.82 334.36C425.45 334.83 426.09 335.04 426.73 335.25C427.36 335.47 428.00 335.36 428.64 335.64C429.27 335.91 429.91 336.70 430.55 336.91C431.18 337.12 431.82 337.23 432.45 336.91C433.09 336.59 433.62 335.53 434.36 335.00C435.11 334.47 436.17 334.15 436.91 333.73C437.65 333.30 438.18 332.98 438.82 332.45C439.45 331.92 440.09 331.08 440.73 330.55C441.36 330.02 442.00 329.53 442.64 329.27C443.27 329.02 444.02 328.70 444.55 329.02C445.08 329.34 445.44 330.29 445.82 331.18C446.20 332.07 446.45 333.30 446.84 334.36C447.22 335.42 447.60 336.70 448.11 337.55C448.62 338.39 449.21 338.99 449.89 339.45C450.57 339.92 451.38 340.07 452.18 340.35C452.99 340.62 453.98 341.36 454.73 341.11C455.47 340.85 456.11 339.31 456.64 338.82C457.17 338.33 457.42 338.01 457.91 338.18C458.40 338.35 458.99 339.35 459.56 339.84C460.14 340.32 460.71 340.96 461.35 341.11C461.98 341.26 462.68 341.00 463.38 340.73C464.08 340.45 464.76 339.88 465.55 339.45C466.33 339.03 467.24 338.54 468.09 338.18C468.94 337.82 469.89 337.72 470.64 337.29C471.38 336.87 471.98 336.19 472.55 335.64C473.11 335.08 473.44 334.09 474.00 333.98C474.56 333.88 475.27 334.30 475.91 335.00C476.55 335.70 477.18 337.29 477.82 338.18C478.45 339.07 479.13 339.92 479.73 340.35C480.32 340.77 480.81 340.88 481.38 340.73C481.95 340.58 482.53 340.09 483.16 339.45C483.80 338.82 484.56 337.76 485.20 336.91C485.84 336.06 486.30 334.94 486.98 334.36C487.66 333.79 488.47 333.75 489.27 333.47C490.08 333.20 490.97 332.92 491.82 332.71C492.67 332.50 493.52 332.35 494.36 332.20C495.21 332.05 496.06 331.88 496.91 331.82C497.76 331.75 498.71 331.67 499.45 331.82C500.20 331.97 500.62 332.28 501.36 332.71C502.11 333.13 503.17 333.77 503.91 334.36C504.65 334.96 505.18 335.49 505.82 336.27C506.45 337.06 507.09 338.22 507.73 339.07C508.36 339.92 509.00 340.66 509.64 341.36C510.27 342.06 510.91 342.85 511.55 343.27C512.18 343.70 512.82 343.97 513.45 343.91C514.09 343.85 514.73 343.27 515.36 342.89C516.00 342.51 516.64 341.87 517.27 341.62C517.91 341.36 518.50 341.30 519.18 341.36C519.86 341.43 520.65 342.21 521.35 342.00C522.05 341.79 522.75 340.79 523.38 340.09C524.02 339.39 524.53 338.54 525.16 337.80C525.80 337.06 526.61 336.48 527.20 335.64C527.79 334.79 528.26 333.56 528.73 332.71C529.19 331.86 529.58 331.01 530.00 330.55C530.42 330.08 530.85 329.80 531.27 329.91C531.70 330.02 532.12 330.65 532.55 331.18C532.97 331.71 533.44 332.62 533.82 333.09C534.20 333.56 534.67 333.83 534.84 333.98"/>
<path class="zl" d="M356.30 333.00H533.32"/>
</g>
<rect class="ax" x="357.00" y="262.30" width="178.30" height="141.80"/>
<path class="tick" d="M416.43 404.10v3.3M475.77 404.10v3.3M535.10 404.10v3.3M357.00 389.74h-3.3M357.00 361.52h-3.3M357.00 333.30h-3.3M357.00 305.08h-3.3M357.00 276.86h-3.3"/>
<text class="tk" text-anchor="middle" x="416.43" y="420.30">10</text>
<text class="tk" text-anchor="middle" x="475.77" y="420.30">20</text>
<text class="tk" text-anchor="middle" x="535.10" y="420.30">30</text>
<text class="tk" text-anchor="end" x="348.70" y="393.64">−0.4</text>
<text class="tk" text-anchor="end" x="348.70" y="365.42">−0.2</text>
<text class="tk" text-anchor="end" x="348.70" y="337.20">0.0</text>
<text class="tk" text-anchor="end" x="348.70" y="308.98">0.2</text>
<text class="tk" text-anchor="end" x="348.70" y="280.76">0.4</text>
<text class="lb" text-anchor="middle" x="446.15" y="435.40">Time [s]</text>
<text class="lb" text-anchor="middle" transform="translate(316.00 333.50) rotate(-90)">Position [m]</text>
<text class="tt" y="257.10"><tspan x="400.50">ACE</tspan><tspan class="tn" x="428.90">=</tspan><tspan class="tn" x="442.60">0.047</tspan>m</text>
<text class="cp" x="346.50" y="461.30" textLength="12.9" lengthAdjust="spacingAndGlyphs">(d)</text>
<text class="cp" x="365.10" y="461.30" textLength="129.9" lengthAdjust="spacingAndGlyphs">Meta-learning-based INDI</text>
</g>
<g>
<clipPath id="c4"><rect x="60.80" y="501.10" width="178.30" height="141.80"/></clipPath>
<path class="gl" d="M72.77 501.10V642.90M84.63 501.10V642.90M96.50 501.10V642.90M108.37 501.10V642.90M120.23 501.10V642.90M132.10 501.10V642.90M143.97 501.10V642.90M155.83 501.10V642.90M167.70 501.10V642.90M179.57 501.10V642.90M191.43 501.10V642.90M203.30 501.10V642.90M215.17 501.10V642.90M227.03 501.10V642.90"/>
<g clip-path="url(#c4)">
<path class="or" d="M60.80 572.09C61.01 571.35 61.65 569.02 62.07 567.64C62.50 566.26 62.92 564.62 63.35 563.82C63.77 563.01 64.13 562.69 64.62 562.80C65.11 562.91 65.68 564.12 66.27 564.45C66.87 564.79 67.55 564.79 68.18 564.84C68.82 564.88 69.45 564.71 70.09 564.71C70.73 564.71 71.53 564.14 72.00 564.84C72.47 565.54 72.64 566.53 72.89 568.91C73.15 571.28 73.29 575.91 73.53 579.09C73.76 582.27 74.02 585.45 74.29 588.00C74.57 590.55 74.82 592.67 75.18 594.36C75.54 596.06 75.92 597.29 76.45 598.18C76.98 599.07 77.73 599.33 78.36 599.71C79.00 600.09 79.68 600.62 80.27 600.47C80.87 600.32 81.44 599.84 81.93 598.82C82.42 597.80 82.84 596.17 83.20 594.36C83.56 592.56 83.79 590.55 84.09 588.00C84.39 585.45 84.71 582.48 84.98 579.09C85.26 575.70 85.49 571.45 85.75 567.64C86.00 563.82 86.25 559.36 86.51 556.18C86.76 553.00 86.98 550.35 87.27 548.55C87.57 546.74 87.91 545.68 88.29 545.36C88.67 545.05 89.10 545.89 89.56 546.64C90.03 547.38 90.52 548.65 91.09 549.82C91.66 550.98 92.36 552.36 93.00 553.64C93.64 554.91 94.32 556.29 94.91 557.45C95.50 558.62 96.03 559.47 96.56 560.64C97.09 561.80 97.52 563.18 98.09 564.45C98.66 565.73 99.36 567.15 100.00 568.27C100.64 569.40 101.27 570.63 101.91 571.20C102.55 571.77 103.08 571.62 103.82 571.71C104.56 571.79 105.66 571.54 106.36 571.71C107.06 571.88 107.64 571.71 108.02 572.73C108.40 573.75 108.44 575.91 108.65 577.82C108.87 579.73 109.04 582.17 109.29 584.18C109.55 586.20 109.86 588.53 110.18 589.91C110.50 591.29 110.82 592.18 111.20 592.45C111.58 592.73 112.01 592.09 112.47 591.56C112.94 591.03 113.43 590.29 114.00 589.27C114.57 588.25 115.27 586.83 115.91 585.45C116.55 584.08 117.26 582.38 117.82 581.00C118.38 579.62 118.86 579.20 119.27 577.18C119.68 575.17 119.97 572.41 120.29 568.91C120.61 565.41 120.86 560.00 121.18 556.18C121.50 552.36 121.84 548.12 122.20 546.00C122.56 543.88 122.98 543.45 123.35 543.45C123.71 543.45 123.98 544.62 124.36 546.00C124.75 547.38 125.17 549.82 125.64 551.73C126.10 553.64 126.63 555.65 127.16 557.45C127.69 559.26 128.27 560.95 128.82 562.55C129.37 564.14 129.94 565.62 130.47 567.00C131.00 568.38 131.49 569.65 132.00 570.82C132.51 571.98 133.00 573.22 133.53 574.00C134.06 574.78 134.59 575.21 135.18 575.53C135.78 575.85 136.45 576.06 137.09 575.91C137.73 575.76 138.36 575.06 139.00 574.64C139.64 574.21 140.27 573.68 140.91 573.36C141.55 573.05 142.33 572.41 142.82 572.73C143.31 573.05 143.52 573.79 143.84 575.27C144.15 576.76 144.41 579.52 144.73 581.64C145.05 583.76 145.36 586.47 145.75 588.00C146.13 589.53 146.55 590.69 147.02 590.80C147.48 590.91 148.08 589.63 148.55 588.64C149.01 587.64 149.39 586.20 149.82 584.82C150.24 583.44 150.67 581.74 151.09 580.36C151.52 578.98 151.83 577.61 152.36 576.55C152.89 575.48 153.64 574.59 154.27 574.00C154.91 573.41 155.48 573.09 156.18 572.98C156.88 572.88 157.73 573.09 158.47 573.36C159.22 573.64 159.85 574.28 160.64 574.64C161.42 575.00 162.33 575.38 163.18 575.53C164.03 575.68 164.98 575.57 165.73 575.53C166.47 575.48 167.17 576.38 167.64 575.27C168.10 574.17 168.25 571.88 168.53 568.91C168.80 565.94 169.02 560.85 169.29 557.45C169.57 554.06 169.86 550.41 170.18 548.55C170.50 546.68 170.84 546.25 171.20 546.25C171.56 546.25 171.96 547.32 172.35 548.55C172.73 549.78 173.11 552.05 173.49 553.64C173.87 555.23 174.23 556.92 174.64 558.09C175.04 559.26 175.48 559.79 175.91 560.64C176.33 561.48 176.76 562.23 177.18 563.18C177.61 564.14 178.15 565.62 178.45 566.36C178.76 567.11 178.78 566.58 179.02 567.64C179.26 568.70 179.55 571.24 179.91 572.73C180.27 574.21 180.76 575.74 181.18 576.55C181.61 577.35 181.97 577.67 182.45 577.56C182.94 577.46 183.54 576.55 184.11 575.91C184.68 575.27 185.25 574.53 185.89 573.75C186.53 572.96 187.29 571.84 187.93 571.20C188.56 570.56 189.14 569.99 189.71 569.93C190.28 569.86 190.88 570.25 191.36 570.82C191.85 571.39 192.15 572.58 192.64 573.36C193.12 574.15 193.72 575.10 194.29 575.53C194.86 575.95 195.44 576.12 196.07 575.91C196.71 575.70 197.47 574.83 198.11 574.25C198.75 573.68 199.25 572.98 199.89 572.47C200.53 571.96 201.38 571.90 201.93 571.20C202.48 570.50 202.84 569.61 203.20 568.27C203.56 566.94 203.79 564.77 204.09 563.18C204.39 561.59 204.66 559.68 204.98 558.73C205.30 557.77 205.66 557.35 206.00 557.45C206.34 557.56 206.70 558.30 207.02 559.36C207.34 560.42 207.61 562.33 207.91 563.82C208.21 565.30 208.44 567.11 208.80 568.27C209.16 569.44 209.58 570.46 210.07 570.82C210.56 571.18 211.13 570.65 211.73 570.44C212.32 570.22 213.06 569.59 213.64 569.55C214.21 569.50 214.74 569.55 215.16 570.18C215.59 570.82 215.80 572.30 216.18 573.36C216.56 574.42 216.99 575.85 217.45 576.55C217.92 577.25 218.39 577.31 218.98 577.56C219.58 577.82 220.38 578.03 221.02 578.07C221.65 578.12 222.23 578.18 222.80 577.82C223.37 577.46 223.90 576.65 224.45 575.91C225.01 575.17 225.54 574.21 226.11 573.36C226.68 572.52 227.25 571.39 227.89 570.82C228.53 570.25 229.23 570.14 229.93 569.93C230.63 569.72 231.41 569.67 232.09 569.55C232.77 569.42 233.36 569.16 234.00 569.16C234.64 569.16 235.38 569.16 235.91 569.55C236.44 569.93 236.69 570.71 237.18 571.45C237.67 572.20 238.56 573.58 238.84 574.00"/>
<path class="gr" d="M60.80 572.47C61.18 572.62 62.39 573.43 63.09 573.36C63.79 573.30 64.26 572.62 65.00 572.09C65.74 571.56 66.70 570.82 67.55 570.18C68.39 569.55 69.24 568.87 70.09 568.27C70.94 567.68 71.89 567.04 72.64 566.62C73.38 566.19 73.97 566.30 74.55 565.73C75.12 565.15 75.54 564.03 76.07 563.18C76.60 562.33 77.13 561.34 77.73 560.64C78.32 559.94 79.00 559.34 79.64 558.98C80.27 558.62 80.91 558.66 81.55 558.47C82.18 558.28 82.97 557.69 83.45 557.84C83.94 557.98 84.09 558.47 84.47 559.36C84.85 560.25 85.28 562.18 85.75 563.18C86.21 564.18 86.70 564.77 87.27 565.35C87.85 565.92 88.44 566.13 89.18 566.62C89.92 567.11 90.88 567.83 91.73 568.27C92.58 568.72 93.42 568.87 94.27 569.29C95.12 569.72 95.97 570.29 96.82 570.82C97.67 571.35 98.52 571.98 99.36 572.47C100.21 572.96 101.06 573.28 101.91 573.75C102.76 574.21 103.61 574.76 104.45 575.27C105.30 575.78 106.26 576.38 107.00 576.80C107.74 577.22 108.42 578.07 108.91 577.82C109.40 577.56 109.55 576.33 109.93 575.27C110.31 574.21 110.73 572.47 111.20 571.45C111.67 570.44 112.22 569.63 112.73 569.16C113.24 568.70 113.72 568.59 114.25 568.65C114.78 568.72 115.32 569.18 115.91 569.55C116.50 569.91 117.26 570.33 117.82 570.82C118.38 571.31 118.82 571.84 119.27 572.47C119.73 573.11 120.12 574.91 120.55 574.64C120.97 574.36 121.35 572.20 121.82 570.82C122.28 569.44 122.82 567.36 123.35 566.36C123.88 565.37 124.45 564.88 125.00 564.84C125.55 564.79 126.12 565.54 126.65 566.11C127.18 566.68 127.61 567.64 128.18 568.27C128.75 568.91 129.45 569.50 130.09 569.93C130.73 570.35 131.36 570.35 132.00 570.82C132.64 571.28 133.27 572.20 133.91 572.73C134.55 573.26 135.18 573.89 135.82 574.00C136.45 574.11 137.09 573.79 137.73 573.36C138.36 572.94 139.00 572.03 139.64 571.45C140.27 570.88 140.91 570.67 141.55 569.93C142.18 569.18 142.82 568.23 143.45 567.00C144.09 565.77 144.77 563.67 145.36 562.55C145.96 561.42 146.49 560.68 147.02 560.25C147.55 559.83 147.97 559.62 148.55 560.00C149.12 560.38 149.86 561.48 150.45 562.55C151.05 563.61 151.54 565.09 152.11 566.36C152.68 567.64 153.25 569.08 153.89 570.18C154.53 571.28 155.23 572.13 155.93 572.98C156.63 573.83 157.31 574.68 158.09 575.27C158.88 575.87 159.79 576.08 160.64 576.55C161.48 577.01 162.33 577.69 163.18 578.07C164.03 578.45 164.94 578.77 165.73 578.84C166.51 578.90 167.32 579.05 167.89 578.45C168.46 577.86 168.74 576.55 169.16 575.27C169.59 574.00 169.95 571.98 170.44 570.82C170.92 569.65 171.54 568.76 172.09 568.27C172.64 567.78 173.17 567.74 173.75 567.89C174.32 568.04 174.89 568.82 175.53 569.16C176.16 569.50 177.15 569.55 177.56 569.93C177.98 570.31 177.67 570.88 178.00 571.45C178.33 572.03 179.00 572.47 179.53 573.36C180.06 574.25 180.59 575.74 181.18 576.80C181.78 577.86 182.52 579.13 183.09 579.73C183.66 580.32 184.09 580.58 184.62 580.36C185.15 580.15 185.68 579.30 186.27 578.45C186.87 577.61 187.55 576.33 188.18 575.27C188.82 574.21 189.45 573.05 190.09 572.09C190.73 571.14 191.30 570.29 192.00 569.55C192.70 568.80 193.55 568.17 194.29 567.64C195.03 567.11 195.67 566.58 196.45 566.36C197.24 566.15 198.15 566.19 199.00 566.36C199.85 566.53 200.80 567.28 201.55 567.38C202.29 567.49 202.88 567.28 203.45 567.00C204.03 566.72 204.45 566.00 204.98 565.73C205.51 565.45 206.08 565.13 206.64 565.35C207.19 565.56 207.76 566.24 208.29 567.00C208.82 567.76 209.25 568.76 209.82 569.93C210.39 571.09 211.09 572.94 211.73 574.00C212.36 575.06 213.00 575.65 213.64 576.29C214.27 576.93 214.91 577.39 215.55 577.82C216.18 578.24 216.82 578.79 217.45 578.84C218.09 578.88 218.73 578.41 219.36 578.07C220.00 577.73 220.53 577.16 221.27 576.80C222.02 576.44 222.97 576.38 223.82 575.91C224.67 575.44 225.62 574.64 226.36 574.00C227.11 573.36 227.64 572.56 228.27 572.09C228.91 571.62 229.44 571.26 230.18 571.20C230.92 571.14 231.98 571.67 232.73 571.71C233.47 571.75 234.00 571.28 234.64 571.45C235.27 571.62 235.85 572.09 236.55 572.73C237.25 573.36 238.45 574.85 238.84 575.27"/>
<path class="zl" d="M60.10 571.80H237.12"/>
</g>
<rect class="ax" x="60.80" y="501.10" width="178.30" height="141.80"/>
<path class="tick" d="M120.23 642.90v3.3M179.57 642.90v3.3M238.90 642.90v3.3M60.80 628.54h-3.3M60.80 600.32h-3.3M60.80 572.10h-3.3M60.80 543.88h-3.3M60.80 515.66h-3.3"/>
<text class="tk" text-anchor="middle" x="120.23" y="659.10">10</text>
<text class="tk" text-anchor="middle" x="179.57" y="659.10">20</text>
<text class="tk" text-anchor="middle" x="238.90" y="659.10">30</text>
<text class="tk" text-anchor="end" x="52.50" y="632.44">−0.4</text>
<text class="tk" text-anchor="end" x="52.50" y="604.22">−0.2</text>
<text class="tk" text-anchor="end" x="52.50" y="576.00">0.0</text>
<text class="tk" text-anchor="end" x="52.50" y="547.78">0.2</text>
<text class="tk" text-anchor="end" x="52.50" y="519.56">0.4</text>
<text class="lb" text-anchor="middle" x="149.95" y="674.20">Time [s]</text>
<text class="lb" text-anchor="middle" transform="translate(19.80 572.30) rotate(-90)">Position [m]</text>
<text class="tt" y="495.90"><tspan x="104.30">ACE</tspan><tspan class="tn" x="132.70">=</tspan><tspan class="tn" x="146.40">0.074</tspan>m</text>
<text class="cp" x="98.30" y="700.10" textLength="11.8" lengthAdjust="spacingAndGlyphs">(e)</text>
<text class="cp" x="114.80" y="700.10" textLength="36.1" lengthAdjust="spacingAndGlyphs">OMAC</text>
</g>
</g></svg></body></html>
